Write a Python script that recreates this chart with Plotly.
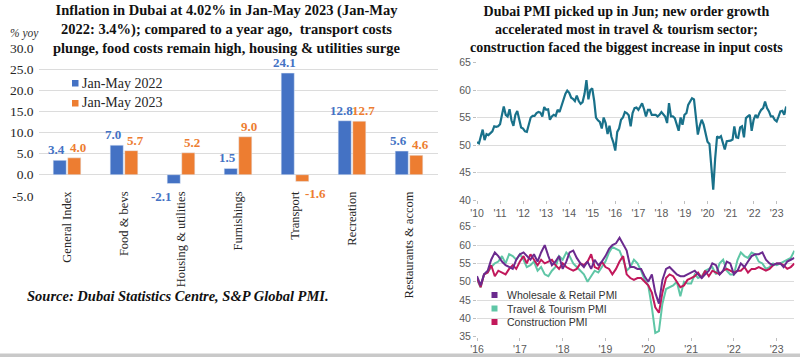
import plotly.graph_objects as go
import pandas as pd

# ---------------- data ----------------
categories = ["General Index", "Food & bevs", "Housing & utilities", "Furnishings",
              "Transport", "Recreation", "Restaurants & accom"]
cpi_2022 = [3.4, 7.0, -2.1, 1.5, 24.1, 12.8, 5.6]
cpi_2023 = [4.0, 5.7, 5.2, 9.0, -1.6, 12.7, 4.6]
cpi_names = ["Jan-May 2022", "Jan-May 2023"]
cpi_ticks = [-5, 0, 5, 10, 15, 20, 25, 30]

pmi_start = "2010-01-01"
dubai_pmi = [
    50.5, 50.3, 51.5, 52.8, 50.9, 52.0, 51.8, 52.2, 52.5, 53.4, 53.3, 53.4,
    53.8, 55.5, 57.0, 55.5, 55.2, 56.5, 54.5, 53.5, 55.5, 56.2, 54.8, 53.2,
    53.0, 52.5, 52.4, 54.0, 55.0, 55.3, 55.3, 55.8, 56.0, 55.9, 55.2, 56.9,
    56.4, 56.5, 54.6, 55.2, 55.5, 55.3, 56.4, 56.0, 57.2, 58.0, 59.3, 59.9,
    59.5, 58.6, 58.4, 58.0, 59.0, 58.0, 57.5, 57.8, 59.3, 61.8, 58.3, 60.0,
    60.3, 58.0, 55.0, 54.5, 54.2, 53.0, 55.0, 54.0, 52.0, 53.5, 51.5, 50.5,
    49.0, 52.4, 53.0, 54.6, 55.0, 56.0, 55.8, 55.4, 53.4, 55.8, 56.7, 56.8,
    56.4, 57.0, 57.6, 56.5, 55.2, 56.4, 56.4, 55.5, 55.5, 55.5, 55.2, 55.5,
    56.0, 55.6, 55.2, 54.0, 57.6, 55.2, 55.2, 54.9, 53.7, 52.6, 55.0, 53.7,
    55.5, 55.8, 57.3, 58.0, 58.5, 58.3, 55.0, 51.9, 53.5, 54.6, 53.7, 52.2,
    50.6, 50.2, 46.5, 41.9, 47.5, 51.6, 51.3, 51.6, 50.4, 49.2, 50.7, 50.7,
    50.8, 51.0, 53.4, 51.4, 51.3, 53.2, 53.4, 51.4, 54.9, 55.2, 55.5, 52.6,
    54.6, 55.5, 54.9, 55.8, 56.4, 56.7, 57.9, 56.7, 56.1, 55.2, 55.2, 54.6,
    54.3, 55.2, 56.1, 56.2, 55.5, 57.0,
]

sector_start = "2016-01-01"
wholesale_retail = [
    51.5, 49.0, 52.0, 53.0, 56.0, 58.0, 57.0, 55.5, 54.5, 54.0, 53.5, 56.0,
    57.5, 58.0, 57.0, 56.0, 57.5, 55.5, 58.0, 60.0, 57.0, 54.5, 55.5, 57.0,
    53.5, 55.5, 58.0, 58.5, 56.5, 55.0, 54.0, 55.5, 53.5, 56.0, 54.5, 55.5,
    57.0, 59.0, 60.0, 60.5, 62.0, 60.0, 58.5, 54.0, 54.0, 53.5, 53.5, 51.5,
    50.0, 52.0, 47.0, 44.0, 50.5, 53.5, 54.0, 53.0, 52.0, 51.5, 51.5, 52.0,
    52.5, 53.0, 52.0, 51.0, 52.0, 53.0, 55.0, 54.5, 52.0, 53.0, 55.5, 55.0,
    52.0, 53.0, 55.0, 54.0, 55.5, 57.0, 57.5, 57.5, 58.0, 56.0, 55.0, 54.5,
    55.0, 55.0, 54.0, 55.5, 56.0, 56.5,
]
travel_tourism = [
    50.5, 48.5, 52.0, 52.5, 54.0, 55.0, 55.5, 57.0, 55.0, 57.5, 57.0, 56.0,
    57.5, 56.0, 54.0, 54.5, 55.5, 53.0, 54.0, 52.0, 51.5, 53.0, 54.0, 57.0,
    56.0, 58.0, 57.0, 55.0, 54.0, 53.0, 52.0, 50.0, 51.5, 53.0, 52.5, 54.0,
    55.5, 58.0, 59.5, 59.0, 58.5, 56.0, 53.0, 54.0, 56.0, 55.0, 53.0, 50.5,
    49.0, 43.0, 36.0, 36.5, 44.0, 48.0, 48.5, 49.0, 50.0, 46.0, 50.0, 49.5,
    49.5, 52.0, 51.0, 51.5, 53.0, 53.5, 54.0, 52.0, 55.0, 56.0, 53.0, 52.0,
    52.0, 56.0, 58.0, 57.0, 56.5, 58.0, 57.5, 55.5, 55.0, 53.5, 54.0, 55.0,
    54.5, 55.0, 55.5, 56.0, 56.5, 58.5,
]
construction = [
    51.0, 48.5, 52.0, 52.5, 54.5, 51.5, 53.0, 52.5, 52.0, 53.5, 54.5, 53.5,
    55.5, 57.0, 55.0, 57.5, 56.0, 54.5, 56.0, 55.0, 55.5, 56.0, 54.5, 53.5,
    55.0, 54.0, 53.5, 53.0, 53.5, 55.0, 54.5, 55.5, 57.5, 54.0, 53.5, 55.5,
    54.0, 53.5, 52.0, 53.5, 55.5, 57.0, 52.0, 51.0, 50.5, 51.0, 51.0, 50.0,
    49.0, 47.0, 43.0, 41.5, 47.0, 51.0, 52.0, 51.5, 50.0, 48.5, 49.0, 50.5,
    51.0, 51.5, 52.5, 51.0, 53.0, 51.5, 53.0, 52.5, 52.0, 53.0, 53.5, 53.0,
    52.5, 53.0, 53.0, 54.0, 52.5, 53.5, 53.5, 54.0, 53.5, 53.0, 53.5, 54.5,
    55.0, 55.0, 54.5, 53.5, 54.0, 55.0,
]
sector_names = ["Wholesale & Retail PMI", "Travel & Tourism PMI", "Construction PMI"]

# ---------------- styling ----------------
W, H = 800, 357
SERIF = "Liberation Serif, Times New Roman, serif"
SANS = "Liberation Sans, Arial, sans-serif"
BLUE, ORANGE = "#4472C4", "#ED7D31"
PMI_COLOR = "#19718a"
SECTOR_COLORS = ["#6b2a8e", "#5fc6a6", "#c2185b"]
GRID = "#dcdcdc"


def px(xp):
    return xp / W


def py(yp):
    return 1 - yp / H


pmi_dates = pd.date_range(pmi_start, periods=len(dubai_pmi), freq="MS")
sector_dates = pd.date_range(sector_start, periods=len(construction), freq="MS")

fig = go.Figure()

annotations = []
shapes = []

# ---- left: CPI bars ----
for vals, color, name, side in [(cpi_2022, BLUE, cpi_names[0], -1),
                                (cpi_2023, ORANGE, cpi_names[1], 1)]:
    fig.add_trace(go.Bar(
        x=categories, y=vals, name=name, marker_color=color,
        showlegend=False, xaxis="x", yaxis="y",
    ))
    for cat, v in zip(categories, vals):
        annotations.append(dict(
            x=cat, y=v, xref="x", yref="y", text=f"<b>{v:.1f}</b>",
            showarrow=False, xshift=side * (11 if v >= 0 else 20),
            yanchor="bottom" if v >= 0 else "top",
            yshift=1 if v >= 0 else -3,
            font=dict(family=SERIF, size=13, color=color),
        ))

# ---- top right: Dubai PMI ----
fig.add_trace(go.Scatter(
    x=pmi_dates, y=dubai_pmi, mode="lines", line=dict(color=PMI_COLOR, width=2.2),
    showlegend=False, xaxis="x2", yaxis="y2", name="Dubai PMI",
))

# ---- bottom right: sector PMIs (draw green first) ----
sector_series = [wholesale_retail, travel_tourism, construction]
for idx in [1, 2, 0]:
    fig.add_trace(go.Scatter(
        x=sector_dates, y=sector_series[idx], mode="lines",
        line=dict(color=SECTOR_COLORS[idx], width=2),
        name=sector_names[idx], showlegend=False, xaxis="x3", yaxis="y3",
    ))

tickfont_r = dict(family=SANS, size=10.5, color="#595959")

fig.update_layout(
    width=W, height=H, margin=dict(l=0, r=0, t=0, b=0, autoexpand=False),
    paper_bgcolor="white", plot_bgcolor="white",
    barmode="group", bargap=0.49, bargroupgap=0.1,
    showlegend=False,
    xaxis=dict(domain=[px(38.5), px(437.5)], tickangle=-90, showgrid=False,
               ticks="", tickfont=dict(family=SERIF, size=12.5, color="#262626"),
               ticklabelstandoff=-8,
               showline=False, zeroline=False, anchor="y", automargin=False),
    yaxis=dict(domain=[py(196), py(48)], range=[-5.05, 30.05],
               tickvals=cpi_ticks, ticktext=[f"{v:.1f}" for v in cpi_ticks],
               showgrid=True, gridcolor=GRID, gridwidth=1, zeroline=False,
               tickfont=dict(family=SERIF, size=13.5, color="#262626"),
               anchor="x", ticklabelstandoff=4, automargin=False),
    xaxis2=dict(domain=[px(477), px(786.2)], type="date",
                range=[pmi_dates[0], pmi_dates[-1]],
                tick0=pmi_start, dtick="M12", tickformat="'%y",
                ticks="outside", ticklen=3, tickcolor="#bfbfbf",
                showgrid=False, zeroline=False, showline=False,
                tickfont=tickfont_r, anchor="y2", automargin=False),
    yaxis2=dict(domain=[py(200.3), py(62.3)], range=[39.97, 65.03],
                tickvals=[40, 45, 50, 55, 60, 65], showgrid=True, gridcolor=GRID,
                zeroline=False, ticks="outside", ticklen=3, tickcolor="#bfbfbf",
                tickfont=tickfont_r, anchor="x2", automargin=False),
    xaxis3=dict(domain=[px(477), px(794.4)], type="date",
                range=[sector_dates[0], sector_dates[-1]],
                tick0=sector_start, dtick="M12", tickformat="'%y",
                ticks="outside", ticklen=3, tickcolor="#bfbfbf",
                showgrid=False, zeroline=False, showline=False,
                tickfont=tickfont_r, anchor="y3", automargin=False),
    yaxis3=dict(domain=[py(336.7), py(226.7)], range=[34.97, 65.03],
                tickvals=[35, 40, 45, 50, 55, 60, 65], showgrid=True, gridcolor=GRID,
                zeroline=False, ticks="outside", ticklen=3, tickcolor="#bfbfbf",
                tickfont=tickfont_r, anchor="x3", automargin=False),
)

# Titles
annotations.append(dict(
    x=px(227), y=py(1), xref="paper", yref="paper", xanchor="center", yanchor="top",
    text="<b>Inflation in Dubai at 4.02% in Jan-May 2023 (Jan-May<br>"
         "2022: 3.4%); compared to a year ago,  transport costs<br>"
         "plunge, food costs remain high, housing &amp; utilities surge</b>",
    showarrow=False, align="center", bgcolor="white", borderpad=0,
    font=dict(family=SERIF, size=14.5, color="#111111"),
))
annotations.append(dict(
    x=px(626), y=py(2), xref="paper", yref="paper", xanchor="center", yanchor="top",
    text="<b>Dubai PMI picked up in Jun; new order growth<br>"
         "accelerated most in travel &amp; tourism sector;<br>"
         "construction faced the biggest increase in input costs</b>",
    showarrow=False, align="center",
    font=dict(family=SERIF, size=14, color="#111111"),
))
# % yoy
annotations.append(dict(
    x=px(8), y=py(33), xref="paper", yref="paper", xanchor="left", yanchor="middle",
    text="<i>% yoy</i>", showarrow=False,
    font=dict(family=SERIF, size=11.5, color="#333333"),
))
# Source
annotations.append(dict(
    x=px(25), y=py(296), xref="paper", yref="paper", xanchor="left", yanchor="middle",
    text="<b><i>Source: Dubai Statistics Centre, S&amp;P Global PMI.</i></b>",
    showarrow=False, font=dict(family=SERIF, size=14.5, color="#111111"),
))

# Left legend (squares + labels)
for i, (name, color) in enumerate(zip(cpi_names, [BLUE, ORANGE])):
    yc = 83 + i * 20
    shapes.append(dict(type="rect", xref="paper", yref="paper",
                       x0=px(72), x1=px(78.5), y0=py(yc + 3.5), y1=py(yc - 3),
                       fillcolor=color, line=dict(width=0)))
    annotations.append(dict(
        x=px(80), y=py(yc), xref="paper", yref="paper", xanchor="left", yanchor="middle",
        text=name, showarrow=False, font=dict(family=SERIF, size=14, color="#262626"),
    ))

# Bottom-right legend
for i, (name, color) in enumerate(zip(sector_names, SECTOR_COLORS)):
    yc = 295 + i * 13.5
    shapes.append(dict(type="rect", xref="paper", yref="paper",
                       x0=px(491.5), x1=px(497.5), y0=py(yc + 3), y1=py(yc - 3),
                       fillcolor=color, line=dict(width=0)))
    annotations.append(dict(
        x=px(505), y=py(yc), xref="paper", yref="paper", xanchor="left", yanchor="middle",
        text=name, showarrow=False, font=dict(family=SANS, size=10.5, color="#333333"),
    ))

# bottom border band
shapes.append(dict(type="rect", xref="paper", yref="paper", x0=0, x1=1,
                   y0=0, y1=py(353.5), fillcolor="#c9c9c9", line=dict(width=0), layer="above"))

fig.update_layout(annotations=annotations, shapes=shapes)

fig.write_html(
    "out.html",
    config={"displayModeBar": False},
    post_script="document.body.style.margin='0px';document.body.style.overflow='hidden';",
)
